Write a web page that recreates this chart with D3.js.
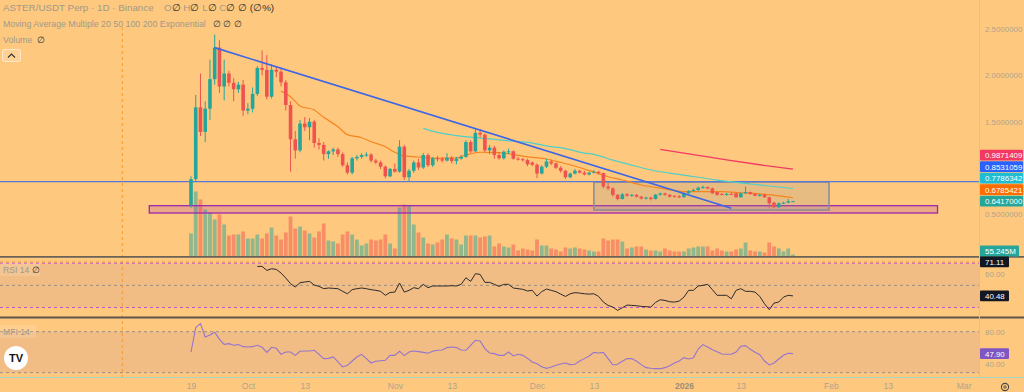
<!DOCTYPE html>
<html><head><meta charset="utf-8">
<script src="https://cdn.jsdelivr.net/npm/d3@7"></script>
<style>
html,body{margin:0;padding:0;background:#fec97e;}
svg{display:block;font-family:"Liberation Sans",Arial,sans-serif;}
</style></head><body>
<svg id="c" width="1024" height="392"></svg>
<script>
// ---------------- DATA ----------------
const startDay = "2025-09-19";
const opens = [0.60,0.88,1.655,1.39,1.64,1.96,2.30,1.88,2.02,1.92,
 1.85,1.90,1.62,1.64,1.80,2.08,2.06,1.77,2.06,2.04,
 1.925,1.68,1.31,1.19,1.48,1.44,1.50,1.27,1.25,1.15,
 1.18,1.20,1.15,1.03,0.95,1.105,1.12,1.14,1.145,1.08,
 1.06,1.014,0.91,0.99,0.96,1.23,0.90,0.97,1.06,1.005,
 1.14,1.03,1.105,1.095,1.08,1.11,1.075,1.10,1.12,1.28,
 1.18,1.38,1.36,1.19,1.22,1.14,1.105,1.176,1.18,1.10,
 1.095,1.085,1.06,1.035,0.94,1.014,1.07,1.05,1.003,0.97,
 0.90,0.94,0.97,0.95,0.93,0.95,0.96,0.945,0.80,0.78,
 0.71,0.665,0.716,0.70,0.71,0.69,0.67,0.68,0.665,0.712,
 0.725,0.71,0.70,0.692,0.685,0.727,0.752,0.762,0.787,0.795,
 0.78,0.74,0.72,0.713,0.72,0.727,0.684,0.727,0.74,0.72,
 0.70,0.712,0.684,0.626,0.576,0.619,0.626,0.640];
const highs = [0.91,1.79,2.02,1.72,2.17,2.44,2.38,2.17,2.05,1.97,
 1.93,1.95,1.70,1.87,2.10,2.27,2.22,2.12,2.10,2.08,
 1.95,1.72,1.40,1.52,1.55,1.54,1.52,1.32,1.28,1.19,
 1.22,1.22,1.17,1.06,1.12,1.14,1.16,1.17,1.16,1.10,
 1.08,1.03,1.00,1.05,1.30,1.25,0.99,1.08,1.10,1.16,
 1.16,1.12,1.13,1.12,1.16,1.13,1.12,1.14,1.30,1.30,
 1.43,1.42,1.37,1.25,1.24,1.17,1.19,1.21,1.19,1.12,
 1.11,1.10,1.07,1.05,1.03,1.10,1.09,1.06,1.02,0.98,
 0.95,0.99,0.98,0.97,0.96,0.98,0.97,0.95,0.84,0.79,
 0.72,0.73,0.73,0.72,0.72,0.70,0.69,0.69,0.72,0.735,
 0.735,0.72,0.705,0.71,0.735,0.76,0.78,0.80,0.81,0.80,
 0.79,0.745,0.73,0.73,0.735,0.735,0.735,0.80,0.745,0.73,
 0.72,0.72,0.69,0.635,0.63,0.635,0.665,0.645];
const lows = [0.57,0.86,1.345,1.28,1.52,1.90,1.81,1.73,1.88,1.72,
 1.81,1.56,1.58,1.60,1.78,2.00,1.74,1.75,1.98,1.88,
 1.62,0.96,1.10,1.17,1.40,1.30,1.22,1.20,1.08,1.10,
 1.14,1.12,1.01,0.93,0.93,1.08,1.10,1.12,1.06,1.04,
 0.99,0.89,0.90,0.95,0.95,0.87,0.85,0.95,0.98,0.99,
 1.01,1.01,1.07,1.06,1.07,1.05,1.04,1.09,1.11,1.16,
 1.17,1.33,1.17,1.15,1.10,1.09,1.09,1.15,1.09,1.08,
 1.07,1.02,1.02,0.89,0.93,1.00,1.03,0.99,0.95,0.88,
 0.89,0.93,0.94,0.92,0.92,0.94,0.93,0.78,0.76,0.69,
 0.65,0.66,0.69,0.69,0.68,0.66,0.66,0.65,0.66,0.70,
 0.70,0.68,0.68,0.675,0.68,0.72,0.745,0.75,0.775,0.77,
 0.72,0.70,0.705,0.70,0.71,0.68,0.68,0.72,0.71,0.695,
 0.69,0.68,0.565,0.57,0.57,0.61,0.62,0.638];
const closes = [0.88,1.655,1.39,1.64,1.96,2.30,1.88,2.02,1.92,1.85,
 1.90,1.62,1.64,1.80,2.08,2.06,1.77,2.06,2.04,1.925,
 1.68,1.31,1.19,1.48,1.44,1.50,1.27,1.25,1.15,1.18,
 1.20,1.15,1.03,0.95,1.105,1.12,1.14,1.145,1.08,1.06,
 1.014,0.91,0.99,0.96,1.23,0.90,0.97,1.06,1.005,1.14,
 1.03,1.105,1.095,1.08,1.11,1.075,1.10,1.12,1.28,1.18,
 1.38,1.36,1.19,1.22,1.14,1.105,1.176,1.18,1.10,1.095,
 1.085,1.04,1.035,0.94,1.014,1.07,1.05,1.003,0.97,0.90,
 0.94,0.97,0.95,0.93,0.95,0.96,0.945,0.80,0.78,0.71,
 0.665,0.716,0.70,0.71,0.69,0.67,0.68,0.665,0.712,0.725,
 0.71,0.69,0.692,0.685,0.727,0.752,0.762,0.787,0.795,0.78,
 0.727,0.71,0.713,0.72,0.718,0.684,0.727,0.74,0.72,0.70,
 0.712,0.684,0.619,0.576,0.619,0.626,0.640,0.6417];
const volumesM = [635,1794,1573,1297,1214,1021,1159,883,580,607,
 607,690,497,497,607,497,635,800,580,469,
 662,1104,773,828,718,635,524,690,911,442,
 414,359,607,690,607,469,304,359,469,442,
 469,607,359,221,1352,1435,1408,883,662,524,
 359,331,386,469,607,497,469,331,580,580,
 580,524,552,580,276,359,276,248,331,166,
 221,193,166,469,304,304,221,193,138,248,
 221,248,221,193,166,138,138,497,442,469,
 469,414,221,248,276,276,193,166,166,138,
 221,166,138,138,138,221,248,276,276,276,
 166,221,166,138,138,193,221,386,166,138,
 138,110,386,276,221,138,221,55.245];

const ema20Days = [19,21,23,26,28,31,33,36,38,41,43,45,49,52,56,58,61,65,71,75,78,82,85,88,91,95,100,104,108,112,116,120,124,127];
const ema20Vals = [1.83,1.77,1.67,1.626,1.547,1.446,1.36,1.327,1.284,1.23,1.17,1.13,1.115,1.105,1.11,1.14,1.17,1.165,1.12,1.097,1.06,1.005,0.955,0.906,0.87,0.816,0.775,0.745,0.744,0.744,0.733,0.72,0.70,0.6785];
const ema50Days = [49,52,56,60,63,69,71,76,78,83,85,89,92,97,104,111,118,127];
const ema50Vals = [1.428,1.385,1.35,1.327,1.315,1.284,1.277,1.23,1.22,1.16,1.148,1.085,1.045,0.978,0.924,0.87,0.827,0.7786];
const ema100Days = [99,106,113,120,127];
const ema100Vals = [1.20,1.145,1.087,1.035,0.987];

const rsiFirstDay = 14;
const rsiVals = [67.1,67.1,63.5,65.0,64.4,61.1,56.6,51.5,48.5,52.4,
 53.0,53.6,50.3,49.1,47.0,47.6,47.3,47.0,44.6,42.4,
 46.1,47.0,47.6,47.0,46.1,45.5,44.6,41.0,43.6,43.9,
 52.1,43.9,45.5,47.9,47.0,50.9,47.9,49.4,49.4,49.4,
 49.4,49.7,49.4,50.9,56.9,53.6,60.5,59.9,52.7,52.7,
 50.9,49.1,50.9,50.9,47.6,47.0,46.4,44.9,45.5,40.3,
 44.3,46.7,45.5,44.3,42.1,40.0,42.4,43.4,43.0,42.4,
 42.1,42.4,40.0,34.9,31.9,30.4,27.4,29.8,32.2,31.9,
 31.6,31.0,30.7,30.4,34.6,37.0,36.4,35.2,34.9,35.8,
 39.4,45.5,45.5,49.4,50.0,50.9,46.1,41.0,41.0,41.0,
 37.9,45.5,47.0,44.6,44.6,43.9,40.0,33.4,28.0,34.0,
 34.9,39.4,41.0,40.48];
const mfiVals = [50.3,85.9,91.8,72.3,75.2,79.1,68.9,61.5,62.5,60.1,
 61.1,58.1,57.6,58.1,60.1,57.2,49.8,57.2,55.7,46.9,
 50.3,50.3,45.4,51.3,51.8,51.8,52.8,46.9,40.6,41.0,
 43.0,35.7,28.4,30.8,37.1,43.0,46.9,40.6,34.2,36.7,
 37.6,38.1,45.4,45.4,51.3,45.0,50.3,51.8,50.8,49.8,
 48.4,51.3,52.8,53.2,56.7,57.6,56.7,53.2,52.8,60.1,
 67.4,66.4,55.2,48.9,47.9,45.4,45.4,50.3,44.5,46.9,
 45.4,41.0,35.7,33.2,28.8,26.4,28.4,30.8,32.8,34.2,
 31.8,32.3,37.1,40.6,44.5,49.8,48.9,49.8,40.6,31.3,
 32.3,36.7,40.6,40.6,36.7,31.8,27.4,26.4,25.9,25.9,
 27.4,30.3,34.2,37.1,42.0,40.1,42.0,54.7,61.1,57.6,
 53.7,50.8,47.4,46.9,46.9,50.3,58.6,59.6,54.2,49.8,
 46.4,37.1,31.3,34.2,40.1,45.4,48.4,47.90];

const timeTickDates = ["2025-09-19","2025-10-01","2025-10-13","2025-11-01","2025-11-13","2025-12-01","2025-12-13","2026-01-01","2026-01-13","2026-02-01","2026-02-13","2026-03-01"];
const timeTickLabels = ["19","Oct","13","Nov","13","Dec","13","2026","13","Feb","13","Mar"];
const priceTicks = [0.5,1.0,1.5,2.0,2.5];
const rsiTicks = [60,40];
const mfiTicks = [80,40];

const trendStart = [5, 2.30], trendEnd = [114, 0.565];
const hLinePrice = 0.8531059;
const pinkBox = {d0:-8.8, d1:157.5, p0:0.593, p1:0.514};
const grayBox = {d0:85, d1:134.6, p0:0.848, p1:0.546};
const vlineDay = -14.5;
const rsiUpperLine = 71.11;

const priceLabelVals = [0.9871409,0.8531059,0.7786342,0.6785421,0.6417000];
const priceLabelCols = ["#f23863","#2962ff","#1fbcd2","#ff6d00","#26a69a"];

// ---------------- SCALES ----------------
const svg = d3.select('#c');
const AX = 979;
const t0 = Date.parse(startDay+"T00:00:00Z");
const dayDate = d => new Date(t0 + d*864e5);
const x = d3.scaleUtc().domain([dayDate(0), dayDate(163)]).range([191, 963.6]);
const yP = d3.scaleLinear().domain([0.5,2.5]).range([214.3,29.1]);
const yV = d3.scaleLinear().domain([0,2000]).range([256.5,184]);
const yR = d3.scaleLinear().domain([30,70]).range([307.5,263.2]);
const yM = d3.scaleLinear().domain([20,80]).range([372.7,331.7]);

const GREEN="#26a69a", RED="#ef5350";
const candles = closes.map((c,i)=>({i, o:opens[i], h:highs[i], l:lows[i], c, v:volumesM[i], d:dayDate(i)}));

svg.append('rect').attr('width',1024).attr('height',392).attr('fill','#fec97e');

// indicator bands
svg.append('rect').attr('x',0).attr('width',AX).attr('y',yR(70)).attr('height',yR(30)-yR(70)).attr('fill','rgba(126,87,194,0.10)');
svg.append('rect').attr('x',0).attr('width',AX).attr('y',yM(80)).attr('height',yM(20)-yM(80)).attr('fill','rgba(126,87,194,0.10)');

const defs = svg.append('defs');
defs.append('clipPath').attr('id','mainclip').append('rect').attr('x',0).attr('y',0).attr('width',AX).attr('height',256);
const main = svg.append('g').attr('clip-path','url(#mainclip)');

// volume
main.append('g').selectAll('rect').data(candles).join('rect')
  .attr('x',d=>x(d.d)-1.9).attr('width',3.8)
  .attr('y',d=>yV(d.v)).attr('height',d=>yV(0)-yV(d.v))
  .attr('fill',d=>d.c>=d.o?GREEN:RED).attr('opacity',0.5);

// rectangles
main.append('rect').attr('x',x(dayDate(pinkBox.d0))).attr('width',x(dayDate(pinkBox.d1))-x(dayDate(pinkBox.d0)))
  .attr('y',yP(pinkBox.p0)).attr('height',yP(pinkBox.p1)-yP(pinkBox.p0))
  .attr('fill','rgba(156,39,176,0.2)').attr('stroke','#9c27b0').attr('stroke-width',1.3);
main.append('rect').attr('x',x(dayDate(grayBox.d0))).attr('width',x(dayDate(grayBox.d1))-x(dayDate(grayBox.d0)))
  .attr('y',yP(grayBox.p0)).attr('height',yP(grayBox.p1)-yP(grayBox.p0))
  .attr('fill','rgba(140,140,150,0.2)').attr('stroke','#8f8f92').attr('stroke-width',1.6);

// horizontal line
main.append('line').attr('x1',0).attr('x2',AX).attr('y1',yP(hLinePrice)).attr('y2',yP(hLinePrice))
  .attr('stroke','#5a78d8').attr('stroke-width',1.4);

// EMAs
const emaLine = (days, vals, col, w) => main.append('path')
  .datum(days.map((d,k)=>[d, vals[k]]))
  .attr('d', d3.line().x(p=>x(dayDate(p[0]))).y(p=>yP(p[1])).curve(d3.curveMonotoneX))
  .attr('fill','none').attr('stroke',col).attr('stroke-width',w);
emaLine(ema100Days, ema100Vals, '#f23863', 1.3);
emaLine(ema50Days, ema50Vals, '#4fcfc8', 1.2);
emaLine(ema20Days, ema20Vals, '#f7841e', 1.2);

// candles
const cg = main.append('g');
cg.selectAll('line').data(candles).join('line')
  .attr('x1',d=>x(d.d)).attr('x2',d=>x(d.d)).attr('y1',d=>yP(d.h)).attr('y2',d=>yP(d.l))
  .attr('stroke',d=>d.c>=d.o?GREEN:RED).attr('stroke-width',1);
cg.selectAll('rect').data(candles).join('rect')
  .attr('x',d=>x(d.d)-1.8).attr('width',3.6)
  .attr('y',d=>yP(Math.max(d.o,d.c))).attr('height',d=>Math.max(1,Math.abs(yP(d.o)-yP(d.c))))
  .attr('fill',d=>d.c>=d.o?GREEN:RED);

// trend line
main.append('line').attr('x1',x(dayDate(trendStart[0]))).attr('y1',yP(trendStart[1]))
  .attr('x2',x(dayDate(trendEnd[0]))).attr('y2',yP(trendEnd[1]))
  .attr('stroke','#3d66e6').attr('stroke-width',1.6);

// vertical dashed line
svg.append('line').attr('x1',x(dayDate(vlineDay))).attr('x2',x(dayDate(vlineDay))).attr('y1',27).attr('y2',377)
  .attr('stroke','#f59a2a').attr('stroke-width',1).attr('stroke-dasharray','3,3');

// RSI pane
svg.append('line').attr('x1',0).attr('x2',AX).attr('y1',yR(rsiUpperLine)).attr('y2',yR(rsiUpperLine))
  .attr('stroke','#f5a030').attr('stroke-width',1).attr('stroke-dasharray','3,3');
[[70,'#c055c8'],[50,'#978f86'],[30,'#c055c8']].forEach(([v,c])=>{
  svg.append('line').attr('x1',0).attr('x2',AX).attr('y1',yR(v)).attr('y2',yR(v))
   .attr('stroke',c).attr('stroke-width',1).attr('stroke-dasharray','3,3');
});
svg.append('path').datum(rsiVals)
  .attr('d', d3.line().x((v,k)=>x(dayDate(rsiFirstDay+k))).y(v=>yR(v)))
  .attr('fill','none').attr('stroke','#2b2b2b').attr('stroke-width',1);

// MFI pane
[80,20].forEach(v=>{
  svg.append('line').attr('x1',0).attr('x2',AX).attr('y1',yM(v)).attr('y2',yM(v))
   .attr('stroke','#978f86').attr('stroke-width',1).attr('stroke-dasharray','3,3');
});
svg.append('path').datum(mfiVals)
  .attr('d', d3.line().x((v,k)=>x(dayDate(k))).y(v=>yM(v)))
  .attr('fill','none').attr('stroke','#9575cd').attr('stroke-width',1.1);

// separators & borders
svg.append('line').attr('x1',0).attr('x2',1024).attr('y1',256.8).attr('y2',256.8).attr('stroke','#6b6257').attr('stroke-width',1.8);
svg.append('line').attr('x1',0).attr('x2',1024).attr('y1',317.5).attr('y2',317.5).attr('stroke','#5e564c').attr('stroke-width',1.8);
svg.append('line').attr('x1',AX+0.5).attr('x2',AX+0.5).attr('y1',0).attr('y2',377.5).attr('stroke','#b5cfb6').attr('stroke-width',1);
svg.append('line').attr('x1',0).attr('x2',1024).attr('y1',377.5).attr('y2',377.5).attr('stroke','#a9d3c2').attr('stroke-width',1.2);

// axes
const AXCOL = '#aea38f';
const styleAxis = g => { g.select('.domain').remove(); g.selectAll('text').attr('fill',AXCOL).attr('font-size',7.9).attr('font-family','"Liberation Sans",Arial,sans-serif'); };
svg.append('g').attr('transform',`translate(${AX},0)`)
  .call(d3.axisRight(yP).tickValues(priceTicks).tickFormat(d3.format('.7f')).tickSize(0).tickPadding(6)).call(styleAxis);
svg.append('g').attr('transform',`translate(${AX},0)`)
  .call(d3.axisRight(yR).tickValues(rsiTicks).tickFormat(d3.format('.2f')).tickSize(0).tickPadding(6)).call(styleAxis);
const mfiAx = svg.append('g').attr('transform',`translate(${AX},0)`)
  .call(d3.axisRight(yM).tickValues(mfiTicks).tickFormat(d3.format('.2f')).tickSize(0).tickPadding(6)).call(styleAxis);
const tAxis = svg.append('g').attr('transform','translate(0,377.5)')
  .call(d3.axisBottom(x).tickValues(timeTickDates.map(s=>new Date(s+"T00:00:00Z"))).tickFormat((d,k)=>timeTickLabels[k]).tickSize(0).tickPadding(5));
tAxis.select('.domain').remove();
tAxis.selectAll('text').attr('fill',AXCOL).attr('font-size',8.6).attr('font-family','"Liberation Sans",Arial,sans-serif')
  .attr('font-weight',(d,k)=>timeTickLabels[k]==='2026'?'bold':'normal')
  .attr('fill',(d,k)=>timeTickLabels[k]==='2026'?'#9a8f7c':AXCOL);

// price labels (stacked)
let prevY = Infinity;
const plab = priceLabelVals.map((v,k)=>({v,col:priceLabelCols[k]})).sort((a,b)=>a.v-b.v);
plab.forEach(p=>{ let yy=yP(p.v); if (prevY!==Infinity) yy=Math.min(yy, prevY-11.5); p.y=yy; prevY=yy; });
const tag = (yc, txt, col, w) => {
  svg.append('rect').attr('x',AX+1).attr('y',yc-5.4).attr('width',w).attr('height',10.8).attr('rx',1).attr('fill',col);
  svg.append('text').attr('x',AX+6).attr('y',yc+2.9).attr('fill','#fff').attr('font-size',7.9).text(txt);
};
plab.forEach(p=>tag(p.y, d3.format('.7f')(p.v), p.col, 43));
tag(yV(volumesM[volumesM.length-1])-3.5, d3.format('.3f')(volumesM[volumesM.length-1])+'M', '#26a69a', 39);
tag(yR(rsiUpperLine), rsiUpperLine.toFixed(2), '#131722', 29);
tag(yR(rsiVals[rsiVals.length-1]), rsiVals[rsiVals.length-1].toFixed(2), '#131722', 29);
// the 40.00 MFI tick text sits just below the last-value tag
mfiAx.selectAll('text').filter(d=>d===40).attr('dy','0.95em');
tag(yM(mfiVals[mfiVals.length-1]), mfiVals[mfiVals.length-1].toFixed(2), '#7e57c2', 29);

// settings icon
svg.append('circle').attr('cx',1005).attr('cy',387).attr('r',3.6).attr('fill','none').attr('stroke','#4a4a4a').attr('stroke-width',1.1);
svg.append('circle').attr('cx',1005).attr('cy',387).attr('r',1.2).attr('fill','none').attr('stroke','#4a4a4a').attr('stroke-width',0.9);

// legends
const LG = '#a1998b', DK = '#2f2f2f';
svg.append('text').attr('x',3).attr('y',11).attr('font-size',9.8).attr('fill',LG).text('ASTER/USDT Perp · 1D · Binance');
const t1b = svg.append('text').attr('x',164).attr('y',11).attr('font-size',9.8).attr('fill',LG).attr('xml:space','preserve');
[['O',LG],['∅',DK],[' H',LG],['∅',DK],[' L',LG],['∅',DK],[' C',LG],['∅',DK],[' ∅ (∅%)',DK]].forEach(([s,c])=>t1b.append('tspan').attr('fill',c).text(s));
svg.append('text').attr('x',3).attr('y',26.5).attr('font-size',8.8).attr('fill',LG).text('Moving Average Multiple 20 50 100 200 Exponential');
svg.append('text').attr('x',213).attr('y',26.5).attr('font-size',8.8).attr('fill',DK).attr('xml:space','preserve').text('∅ ∅ ∅');
svg.append('text').attr('x',3).attr('y',42.5).attr('font-size',8.8).attr('fill',LG).text('Volume');
svg.append('text').attr('x',37).attr('y',42.5).attr('font-size',8.8).attr('fill',DK).text('∅');

// collapse button
svg.append('rect').attr('x',2.5).attr('y',49.5).attr('width',18).attr('height',12).attr('rx',2).attr('fill','rgba(255,255,255,0.18)').attr('stroke','rgba(255,255,255,0.55)');
svg.append('path').attr('d','M8,57.5 L11.5,54 L15,57.5').attr('fill','none').attr('stroke','#333').attr('stroke-width',1.1);

// indicator titles
svg.append('rect').attr('x',0).attr('y',263).attr('width',40).attr('height',13).attr('fill','rgba(255,255,255,0.12)');
const rt = svg.append('text').attr('x',3).attr('y',272.5).attr('font-size',8.6).attr('fill',LG).attr('xml:space','preserve');
rt.append('tspan').text('RSI 14 '); rt.append('tspan').attr('fill',DK).text('∅');
svg.append('rect').attr('x',0).attr('y',325).attr('width',36).attr('height',13).attr('fill','rgba(255,255,255,0.12)');
svg.append('text').attr('x',3).attr('y',334.5).attr('font-size',8.6).attr('fill',LG).text('MFI 14');

// logo
svg.append('circle').attr('cx',16).attr('cy',358).attr('r',12).attr('fill','#ffffff');
svg.append('text').attr('x',16).attr('y',362).attr('text-anchor','middle').attr('font-size',11).attr('font-weight','900').attr('fill','#111').text('TV');
</script>
</body></html>
